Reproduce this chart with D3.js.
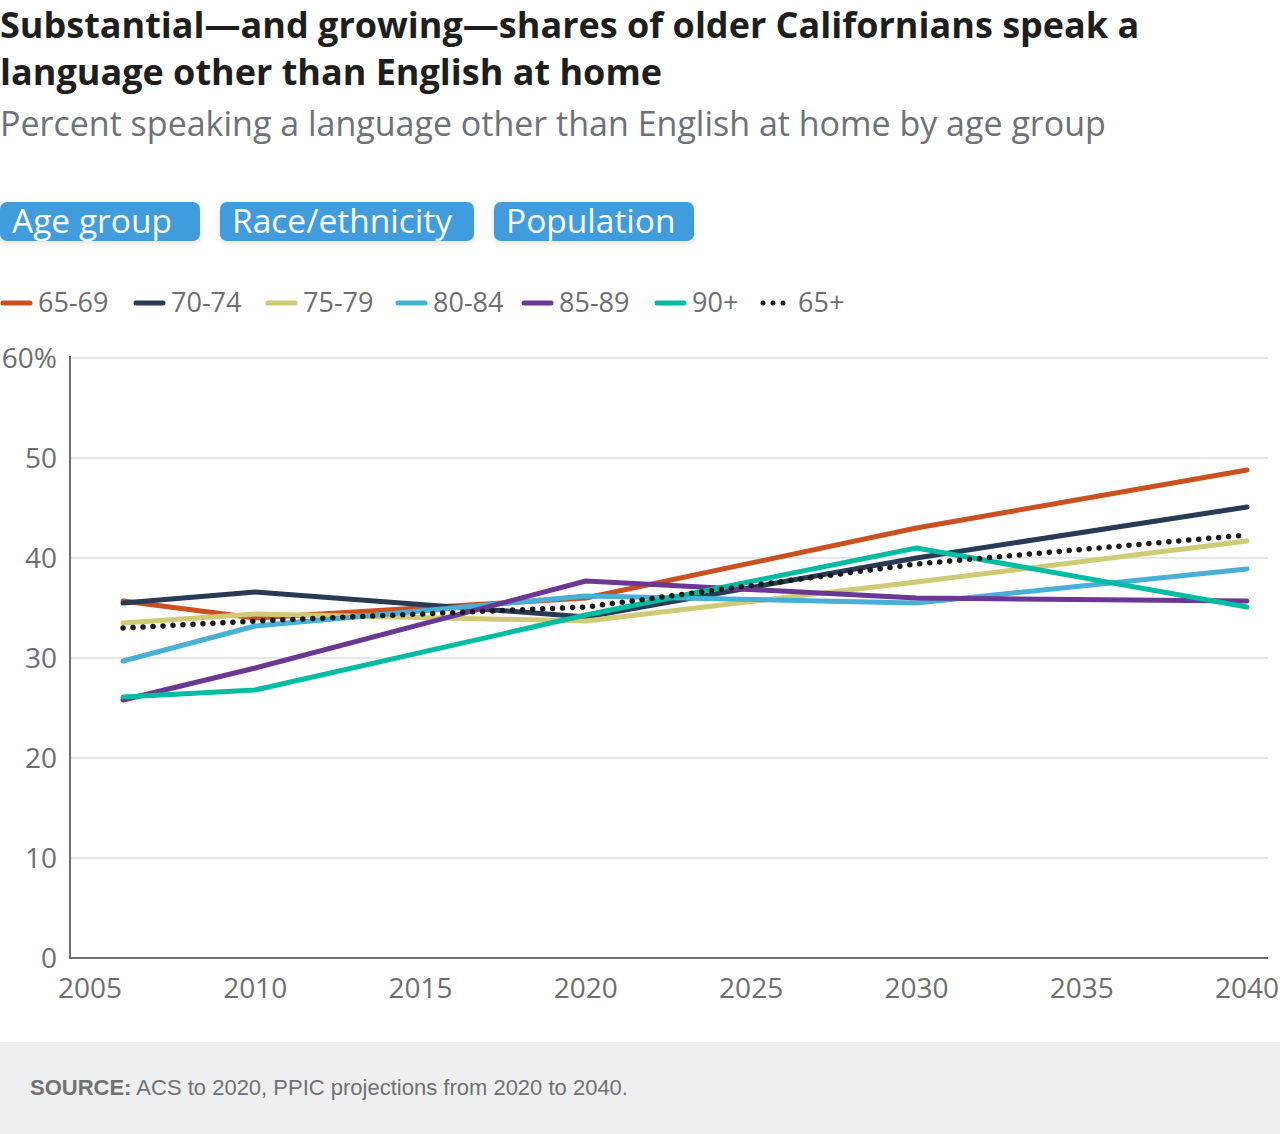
<!DOCTYPE html>
<html>
<head>
<meta charset="utf-8">
<script src="https://cdn.jsdelivr.net/npm/d3@7"></script>
<style>
  body { margin: 0; background: #fff; }
  svg text { font-family: "Open Sans", Lato, sans-serif; }
</style>
</head>
<body>
<div id="chart"></div>
<script>
// data
var years = [2006, 2010, 2020, 2030, 2040];
var seriesNames = ["65-69", "70-74", "75-79", "80-84", "85-89", "90+", "65+"];
var seriesColors = ["#cb5020", "#283a55", "#cfca74", "#48afd6", "#6b3795", "#00bca3", "#1a1a1a"];
var v6569 = [35.7, 34.0, 36.0, 43.0, 48.8];
var v7074 = [35.5, 36.6, 34.1, 40.0, 45.1];
var v7579 = [33.5, 34.4, 33.7, 37.6, 41.7];
var v8084 = [29.7, 33.2, 36.2, 35.5, 38.9];
var v8589 = [25.8, 29.0, 37.7, 36.0, 35.7];
var v90 = [26.1, 26.8, 34.3, 41.0, 35.1];
var v65plus = [33.0, 33.7, 35.1, 39.4, 42.3];
var yTicks = [0, 10, 20, 30, 40, 50, 60];
var xTicks = [2005, 2010, 2015, 2020, 2025, 2030, 2035, 2040];
var buttons = ["Age group", "Race/ethnicity", "Population"];

var allValues = [v6569, v7074, v7579, v8084, v8589, v90, v65plus];

var W = 1280, H = 1134;
var svg = d3.select("#chart").append("svg")
    .attr("width", W)
    .attr("height", H);

// title + subtitle
var title = svg.append("text")
    .attr("x", 0).attr("y", 38)
    .style("font-size", "36px").style("font-weight", "bold").style("fill", "#1e1e1e");
title.append("tspan").attr("x", 0).attr("dy", 0).text("Substantial\u2014and growing\u2014shares of older Californians speak a");
title.append("tspan").attr("x", 0).attr("dy", 47).text("language other than English at home");

svg.append("text")
    .attr("x", 0).attr("y", 136)
    .style("font-size", "34px").style("fill", "#6d7178")
    .text("Percent speaking a language other than English at home by age group");

// buttons
var defs = svg.append("defs");
var f = defs.append("filter").attr("id", "shadow").attr("x", "-10%").attr("y", "-30%").attr("width", "120%").attr("height", "160%");
f.append("feDropShadow").attr("dx", 0).attr("dy", 2).attr("stdDeviation", 3).attr("flood-color", "#000").attr("flood-opacity", 0.12);

var bx = [0, 220, 494], bw = [200, 254, 200];
buttons.forEach(function(b, i) {
    svg.append("rect")
        .attr("x", bx[i]).attr("y", 202)
        .attr("width", bw[i]).attr("height", 39)
        .attr("rx", 7)
        .style("fill", "#419cdc")
        .attr("filter", "url(#shadow)");
    svg.append("text")
        .attr("x", bx[i] + 12).attr("y", 233)
        .style("font-size", "33.5px").style("fill", "#fff")
        .text(b);
});

// legend
var legX = [0, 133, 265, 395, 521, 654, 760];
var legend = svg.selectAll(".leg")
    .data(seriesNames)
    .enter().append("g")
    .attr("class", "leg")
    .attr("transform", function(d, i) { return "translate(" + legX[i] + ",303)"; });

legend.append("line")
    .attr("x1", 3).attr("x2", 30)
    .attr("y1", 0).attr("y2", 0)
    .style("stroke", function(d, i) { return seriesColors[i]; })
    .style("stroke-width", 5)
    .style("stroke-linecap", "round")
    .style("stroke-dasharray", function(d, i) { return i == 6 ? "0 10" : null; });

legend.append("text")
    .attr("x", 38).attr("y", 0).attr("dy", "0.35em")
    .style("font-size", "27px").style("fill", "#6d6e71")
    .text(function(d) { return d; });

// scales
var x = d3.scaleLinear().domain([2005, 2040]).range([90, 1247]);
var y = d3.scaleLinear().domain([0, 60]).range([958, 358]);

// grid
svg.append("g").selectAll("line")
    .data(yTicks.filter(function(t) { return t > 0; }))
    .enter().append("line")
    .attr("x1", 70).attr("x2", 1268)
    .attr("y1", function(d) { return y(d); })
    .attr("y2", function(d) { return y(d); })
    .style("stroke", "#e6e6e6")
    .style("stroke-width", 2);

// axes
svg.append("line")
    .attr("x1", 70).attr("x2", 70).attr("y1", 356).attr("y2", 959)
    .style("stroke", "#6d6e71").style("stroke-width", 2);
svg.append("line")
    .attr("x1", 70).attr("x2", 1268).attr("y1", 958).attr("y2", 958)
    .style("stroke", "#6d6e71").style("stroke-width", 2);

svg.append("g").selectAll("text")
    .data(yTicks)
    .enter().append("text")
    .attr("x", 57).attr("y", function(d) { return y(d); })
    .attr("dy", "0.35em")
    .attr("text-anchor", "end")
    .style("font-size", "28px").style("fill", "#6d6e71")
    .text(function(d) { return d == 60 ? "60%" : d; });

svg.append("g").selectAll("text")
    .data(xTicks)
    .enter().append("text")
    .attr("x", function(d) { return x(d); })
    .attr("y", 988).attr("dy", "0.35em")
    .attr("text-anchor", "middle")
    .style("font-size", "28px").style("fill", "#6d6e71")
    .text(function(d) { return d; });

// lines
var line = d3.line()
    .x(function(d, i) { return x(years[i]); })
    .y(function(d) { return y(d); });

svg.append("g").selectAll("path")
    .data(allValues)
    .enter().append("path")
    .attr("d", line)
    .style("fill", "none")
    .style("stroke", function(d, i) { return seriesColors[i]; })
    .style("stroke-width", function(d, i) { return i == 6 ? 5.5 : 5; })
    .style("stroke-linecap", "round")
    .style("stroke-linejoin", "round")
    .style("stroke-dasharray", function(d, i) { return i == 6 ? "0 10" : null; });

// source band
svg.append("rect")
    .attr("x", 0).attr("y", 1042).attr("width", W).attr("height", H - 1042)
    .style("fill", "#eeeff1");
var src = svg.append("text")
    .attr("x", 30).attr("y", 1095)
    .style("font-family", "'Liberation Sans', Arial, sans-serif")
    .style("font-size", "22px").style("fill", "#707174");
src.append("tspan").style("font-weight", "bold").text("SOURCE:");
src.append("tspan").text(" ACS to 2020, PPIC projections from 2020 to 2040.");
</script>
</body>
</html>
